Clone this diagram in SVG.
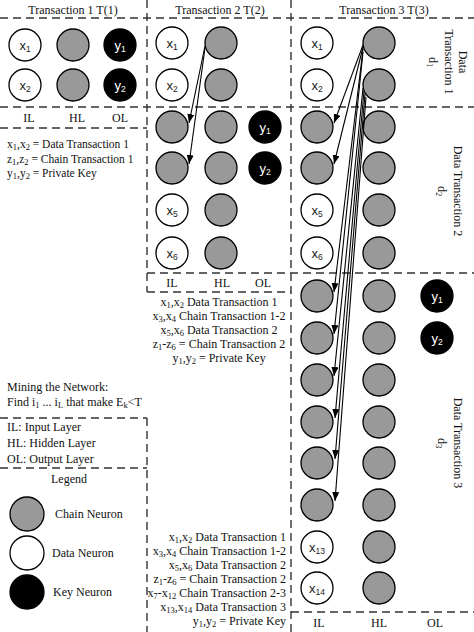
<svg xmlns="http://www.w3.org/2000/svg" width="474" height="632" viewBox="0 0 474 632">
<defs>
<style>
.dash{stroke:#333;stroke-width:1.4;stroke-dasharray:8 5;fill:none}
.ch{fill:#999;stroke:#000;stroke-width:1.3}
.da{fill:#fff;stroke:#000;stroke-width:1.3}
.ke{fill:#000;stroke:#000;stroke-width:1.3}
.t{font-family:"Liberation Serif","Times New Roman",serif;font-size:12px;fill:#111}
.sm{font-size:11.5px}
.c{text-anchor:middle}
.e{text-anchor:end}
.n{font-family:"Liberation Sans",Arial,sans-serif;font-size:13px;text-anchor:middle;fill:#222}
.nw{fill:#fff}
.s{font-size:8.5px}
.ln{stroke:#000;stroke-width:1.1;fill:none;marker-end:url(#ah)}
</style>
<marker id="ah" markerUnits="userSpaceOnUse" markerWidth="9" markerHeight="7" refX="9" refY="3.5" orient="auto">
<path d="M0,0 L9,3.5 L0,7 z" fill="#000"/>
</marker>
</defs>
<rect width="474" height="632" fill="#fff"/>

<g id="frame">
<line class="dash" x1="0" y1="18" x2="474" y2="18"/>
<line class="dash" x1="0" y1="107" x2="474" y2="107"/>
<line class="dash" x1="0" y1="128" x2="147" y2="128"/>
<line class="dash" x1="147" y1="273" x2="474" y2="273"/>
<line class="dash" x1="147" y1="292" x2="291" y2="292"/>
<line class="dash" x1="0" y1="418" x2="147" y2="418"/>
<line class="dash" x1="0" y1="468" x2="147" y2="468"/>
<line class="dash" x1="291" y1="612" x2="474" y2="612"/>
<line class="dash" x1="147" y1="0" x2="147" y2="292"/>
<line class="dash" x1="147" y1="418" x2="147" y2="632"/>
<line class="dash" x1="291" y1="0" x2="291" y2="632"/>
</g>

<g id="titles">
<text class="t c" x="73" y="14">Transaction 1 T(1)</text>
<text class="t c" x="220" y="14">Transaction 2 T(2)</text>
<text class="t c" x="384" y="14">Transaction 3 T(3)</text>
</g>

<g id="t1-nodes">
<circle class="da" cx="25" cy="45" r="16"/><text class="n" x="25" y="50">x<tspan class="s" baseline-shift="-2">1</tspan></text>
<circle class="da" cx="25" cy="85" r="16"/><text class="n" x="25" y="90">x<tspan class="s" baseline-shift="-2">2</tspan></text>
<circle class="ch" cx="73" cy="45" r="16"/>
<circle class="ch" cx="73" cy="85" r="16"/>
<circle class="ke" cx="120" cy="45" r="16"/><text class="n nw" x="120" y="50">y<tspan class="s" baseline-shift="-2">1</tspan></text>
<circle class="ke" cx="120" cy="85" r="16"/><text class="n nw" x="120" y="90">y<tspan class="s" baseline-shift="-2">2</tspan></text>
</g>
<g id="t1-labels">
<text class="t c" x="29" y="122">IL</text>
<text class="t c" x="77" y="122">HL</text>
<text class="t c" x="120" y="122">OL</text>
<text class="t sm" x="7" y="148">x<tspan class="s" baseline-shift="-2">1</tspan>,x<tspan class="s" baseline-shift="-2">2</tspan> = Data Transaction 1</text>
<text class="t sm" x="7" y="163">z<tspan class="s" baseline-shift="-2">1</tspan>,z<tspan class="s" baseline-shift="-2">2</tspan> = Chain Transaction 1</text>
<text class="t sm" x="7" y="177">y<tspan class="s" baseline-shift="-2">1</tspan>,y<tspan class="s" baseline-shift="-2">2</tspan> = Private Key</text>
</g>

<g id="t2-nodes">
<circle class="da" cx="172" cy="43" r="16"/><text class="n" x="172" y="48">x<tspan class="s" baseline-shift="-2">1</tspan></text>
<circle class="da" cx="172" cy="85" r="16"/><text class="n" x="172" y="90">x<tspan class="s" baseline-shift="-2">2</tspan></text>
<circle class="ch" cx="172" cy="127" r="16"/>
<circle class="ch" cx="172" cy="168" r="16"/>
<circle class="da" cx="172" cy="210" r="16"/><text class="n" x="172" y="215">x<tspan class="s" baseline-shift="-2">5</tspan></text>
<circle class="da" cx="172" cy="253" r="16"/><text class="n" x="172" y="258">x<tspan class="s" baseline-shift="-2">6</tspan></text>
<circle class="ch" cx="221" cy="43" r="16"/>
<circle class="ch" cx="221" cy="85" r="16"/>
<circle class="ch" cx="221" cy="127" r="16"/>
<circle class="ch" cx="221" cy="168" r="16"/>
<circle class="ch" cx="221" cy="210" r="16"/>
<circle class="ch" cx="221" cy="253" r="16"/>
<circle class="ke" cx="265" cy="127" r="16"/><text class="n nw" x="265" y="132">y<tspan class="s" baseline-shift="-2">1</tspan></text>
<circle class="ke" cx="265" cy="168" r="16"/><text class="n nw" x="265" y="173">y<tspan class="s" baseline-shift="-2">2</tspan></text>
</g>
<g id="t2-labels">
<text class="t c" x="172" y="287">IL</text>
<text class="t c" x="222" y="287">HL</text>
<text class="t c" x="263" y="287">OL</text>
<text class="t c" x="219" y="306">x<tspan class="s" baseline-shift="-2">1</tspan>,x<tspan class="s" baseline-shift="-2">2</tspan> Data Transaction 1</text>
<text class="t c" x="219" y="320">x<tspan class="s" baseline-shift="-2">3</tspan>,x<tspan class="s" baseline-shift="-2">4</tspan> Chain Transaction 1-2</text>
<text class="t c" x="219" y="334">x<tspan class="s" baseline-shift="-2">5</tspan>,x<tspan class="s" baseline-shift="-2">6</tspan> Data Transaction 2</text>
<text class="t c" x="219" y="348">z<tspan class="s" baseline-shift="-2">1</tspan>-z<tspan class="s" baseline-shift="-2">6</tspan> = Chain Transaction 2</text>
<text class="t c" x="219" y="362">y<tspan class="s" baseline-shift="-2">1</tspan>,y<tspan class="s" baseline-shift="-2">2</tspan> = Private Key</text>
</g>

<g id="t3-nodes">
<circle class="da" cx="317" cy="43" r="16"/><text class="n" x="317" y="48">x<tspan class="s" baseline-shift="-2">1</tspan></text>
<circle class="da" cx="317" cy="85" r="16"/><text class="n" x="317" y="90">x<tspan class="s" baseline-shift="-2">2</tspan></text>
<circle class="ch" cx="317" cy="127" r="16"/>
<circle class="ch" cx="317" cy="168" r="16"/>
<circle class="da" cx="317" cy="210" r="16"/><text class="n" x="317" y="215">x<tspan class="s" baseline-shift="-2">5</tspan></text>
<circle class="da" cx="317" cy="253" r="16"/><text class="n" x="317" y="258">x<tspan class="s" baseline-shift="-2">6</tspan></text>
<circle class="ch" cx="317" cy="296" r="16"/>
<circle class="ch" cx="317" cy="338" r="16"/>
<circle class="ch" cx="317" cy="380" r="16"/>
<circle class="ch" cx="317" cy="422" r="16"/>
<circle class="ch" cx="317" cy="463" r="16"/>
<circle class="ch" cx="317" cy="505" r="16"/>
<circle class="da" cx="317" cy="547" r="16"/><text class="n" x="317" y="552">x<tspan class="s" baseline-shift="-2">13</tspan></text>
<circle class="da" cx="317" cy="588" r="16"/><text class="n" x="317" y="593">x<tspan class="s" baseline-shift="-2">14</tspan></text>
<circle class="ch" cx="379" cy="43" r="16"/>
<circle class="ch" cx="379" cy="85" r="16"/>
<circle class="ch" cx="379" cy="127" r="16"/>
<circle class="ch" cx="379" cy="168" r="16"/>
<circle class="ch" cx="379" cy="210" r="16"/>
<circle class="ch" cx="379" cy="253" r="16"/>
<circle class="ch" cx="379" cy="296" r="16"/>
<circle class="ch" cx="379" cy="338" r="16"/>
<circle class="ch" cx="379" cy="380" r="16"/>
<circle class="ch" cx="379" cy="422" r="16"/>
<circle class="ch" cx="379" cy="463" r="16"/>
<circle class="ch" cx="379" cy="505" r="16"/>
<circle class="ch" cx="379" cy="547" r="16"/>
<circle class="ch" cx="379" cy="588" r="16"/>
<circle class="ke" cx="437" cy="296" r="16"/><text class="n nw" x="437" y="301">y<tspan class="s" baseline-shift="-2">1</tspan></text>
<circle class="ke" cx="437" cy="338" r="16"/><text class="n nw" x="437" y="343">y<tspan class="s" baseline-shift="-2">2</tspan></text>
</g>
<g id="t3-labels">
<text class="t c" x="319" y="627">IL</text>
<text class="t c" x="379" y="627">HL</text>
<text class="t c" x="435" y="627">OL</text>
<g transform="translate(459,62) rotate(90)">
<text class="t c" x="0" y="0">Data</text>
<text class="t c" x="0" y="14">Transaction 1</text>
<text class="t c" x="0" y="30">d<tspan class="s" baseline-shift="-2">1</tspan></text>
</g>
<g transform="translate(454,191) rotate(90)">
<text class="t c" x="0" y="0">Data Transaction 2</text>
<text class="t c" x="0" y="16">d<tspan class="s" baseline-shift="-2">2</tspan></text>
</g>
<g transform="translate(454,443) rotate(90)">
<text class="t c" x="0" y="0">Data Transaction 3</text>
<text class="t c" x="0" y="16">d<tspan class="s" baseline-shift="-2">3</tspan></text>
</g>
<text class="t e" x="286" y="541">x<tspan class="s" baseline-shift="-2">1</tspan>,x<tspan class="s" baseline-shift="-2">2</tspan> Data Transaction 1</text>
<text class="t e" x="286" y="555">x<tspan class="s" baseline-shift="-2">3</tspan>,x<tspan class="s" baseline-shift="-2">4</tspan> Chain Transaction 1-2</text>
<text class="t e" x="286" y="569">x<tspan class="s" baseline-shift="-2">5</tspan>,x<tspan class="s" baseline-shift="-2">6</tspan> Data Transaction 2</text>
<text class="t e" x="286" y="583">z<tspan class="s" baseline-shift="-2">1</tspan>-z<tspan class="s" baseline-shift="-2">6</tspan> = Chain Transaction 2</text>
<text class="t e" x="286" y="597">x<tspan class="s" baseline-shift="-2">7</tspan>-x<tspan class="s" baseline-shift="-2">12</tspan> Chain Transaction 2-3</text>
<text class="t e" x="286" y="611">x<tspan class="s" baseline-shift="-2">13</tspan>,x<tspan class="s" baseline-shift="-2">14</tspan> Data Transaction 3</text>
<text class="t e" x="286" y="625">y<tspan class="s" baseline-shift="-2">1</tspan>,y<tspan class="s" baseline-shift="-2">2</tspan> = Private Key</text>
</g>

<g id="legend">
<text class="t" x="7" y="391">Mining the Network:</text>
<text class="t" x="7" y="406">Find i<tspan class="s" baseline-shift="-2">1</tspan> ... i<tspan class="s" baseline-shift="-2">L</tspan> that make E<tspan class="s" baseline-shift="-2">k</tspan>&lt;T</text>
<text class="t" x="7" y="431">IL: Input Layer</text>
<text class="t" x="7" y="447">HL: Hidden Layer</text>
<text class="t" x="7" y="463">OL: Output Layer</text>
<text class="t c" x="69" y="483">Legend</text>
<circle class="ch" cx="27" cy="514" r="17"/>
<text class="t" x="55" y="518">Chain Neuron</text>
<circle class="da" cx="27" cy="553" r="17"/>
<text class="t" x="52" y="557">Data Neuron</text>
<circle class="ke" cx="27" cy="592" r="17"/>
<text class="t" x="53" y="596">Key Neuron</text>
</g>

<g id="connectors">
<line class="ln" x1="205" y1="46" x2="189" y2="123"/>
<line class="ln" x1="205" y1="48" x2="189" y2="164"/>
<line class="ln" x1="363" y1="45" x2="334" y2="123"/>
<line class="ln" x1="363" y1="47" x2="334" y2="164"/>
<line class="ln" x1="363" y1="49" x2="334" y2="292"/>
<line class="ln" x1="363" y1="52" x2="334" y2="334"/>
<line class="ln" x1="363" y1="88" x2="334" y2="376"/>
<line class="ln" x1="364" y1="91" x2="335" y2="418"/>
<line class="ln" x1="365" y1="94" x2="335" y2="459"/>
<line class="ln" x1="366" y1="97" x2="335" y2="501"/>
</g>
</svg>
